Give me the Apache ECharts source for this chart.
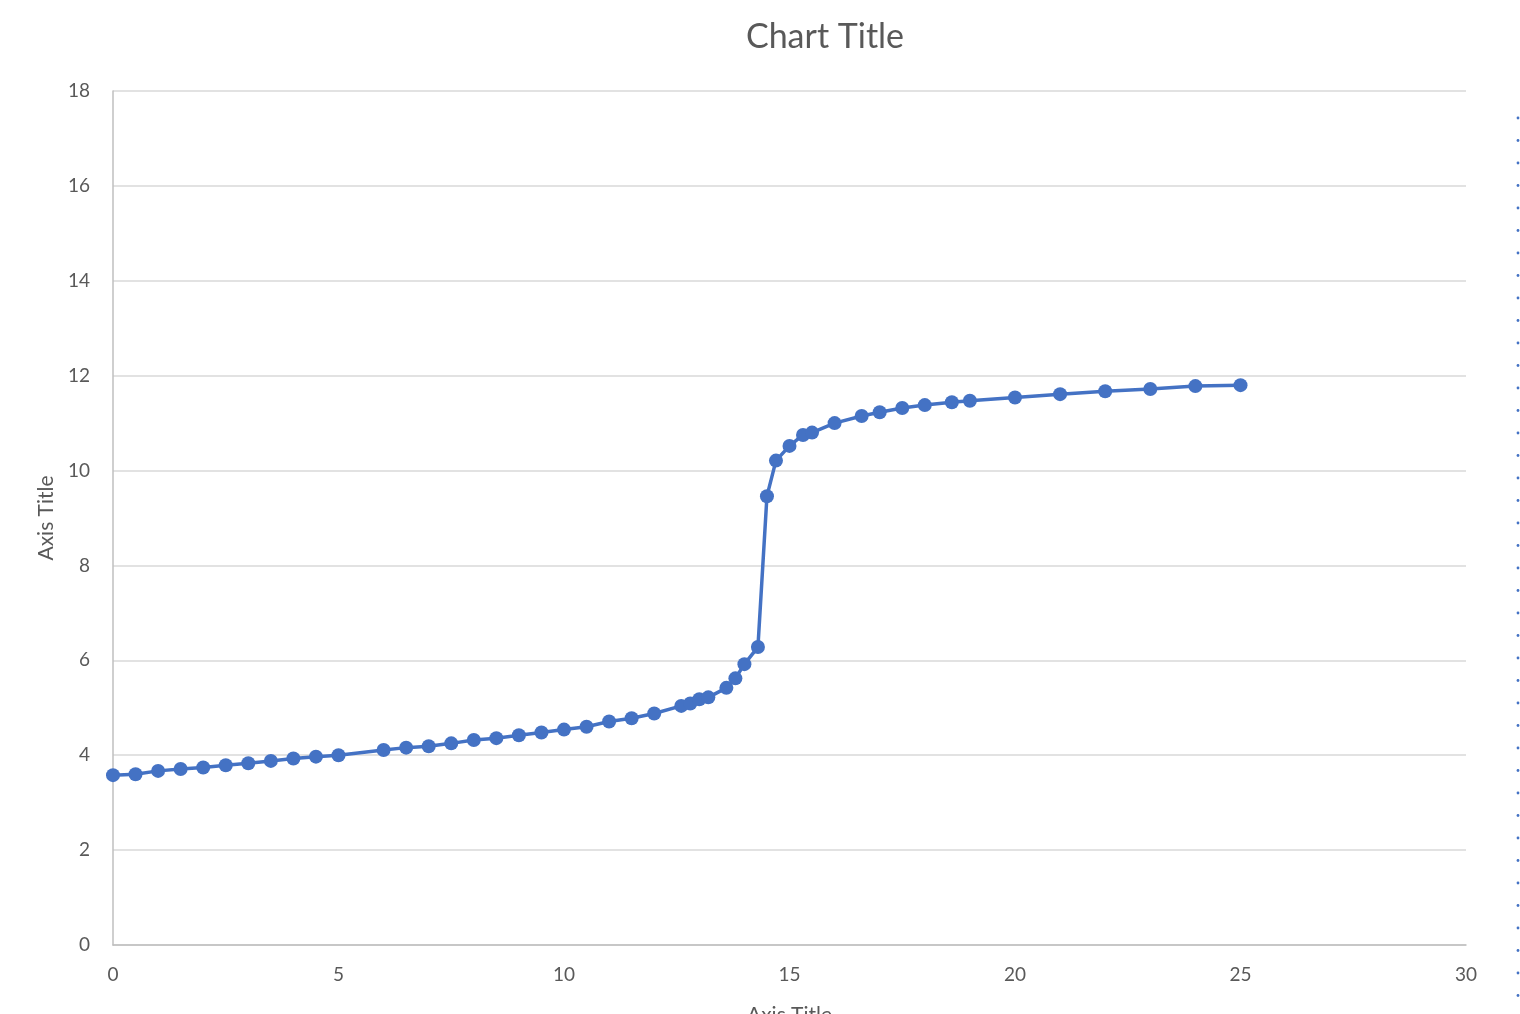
<!DOCTYPE html>
<html style="height: 100%">
<head>
<meta charset="utf-8">
<title>Chart Title</title>
<script src="https://cdn.jsdelivr.net/npm/echarts@6/dist/echarts.min.js"></script>
</head>
<body style="height: 100%; margin: 0; background: #fff">
<div id="container" style="width: 1520px; height: 1014px"></div>
<script type="text/javascript">
// values
var xValues = [0, 0.5, 1, 1.5, 2, 2.5, 3, 3.5, 4, 4.5, 5,
  6, 6.5, 7, 7.5, 8, 8.5, 9, 9.5, 10, 10.5, 11, 11.5, 12,
  12.6, 12.8, 13, 13.2, 13.6, 13.8, 14, 14.3,
  14.5, 14.7, 15, 15.3, 15.5, 16, 16.6, 17, 17.5, 18, 18.6, 19, 20, 21, 22, 23, 24, 25];
var yValues = [3.58, 3.60, 3.67, 3.71, 3.74, 3.79, 3.83, 3.88, 3.93, 3.97, 4.00,
  4.11, 4.16, 4.19, 4.25, 4.32, 4.36, 4.42, 4.48, 4.54, 4.60, 4.71, 4.78, 4.88,
  5.04, 5.09, 5.18, 5.22, 5.42, 5.62, 5.92, 6.28,
  9.46, 10.21, 10.52, 10.75, 10.80, 11.00, 11.15, 11.23, 11.32, 11.38, 11.44, 11.47, 11.54, 11.61, 11.67, 11.72, 11.78, 11.80];

var font = 'Lato, "Open Sans", sans-serif';
var grey = '#595959';

var points = [];
for (var i = 0; i < xValues.length; i++) {
  points.push([xValues[i], yValues[i]]);
}

// the clipped legend at the right edge: only tiny marker tips show
var legendDots = [];
for (var k = 0; k < 40; k++) {
  legendDots.push({
    type: 'circle',
    shape: { cx: 1518, cy: 118 + k * 22.5, r: 1.4 },
    style: { fill: '#4472C4' },
    silent: true
  });
}

var myChart = echarts.init(document.getElementById('container'));
var option = {
  animation: false,
  backgroundColor: '#fff',
  title: {
    text: 'Chart Title',
    left: 820,
    top: 15,
    textAlign: 'center',
    textStyle: { fontFamily: font, fontSize: 34, fontWeight: 'normal', color: grey }
  },
  grid: { left: 113, right: 54, top: 91, bottom: 69, outerBoundsMode: 'none', containLabel: false },
  xAxis: {
    type: 'value',
    min: 0,
    max: 30,
    interval: 5,
    name: 'Axis Title',
    nameLocation: 'middle',
    nameGap: 60,
    nameTextStyle: { fontFamily: font, fontSize: 21, color: grey },
    axisLine: { lineStyle: { color: '#bfbfbf', width: 1.5 } },
    axisTick: { show: false },
    axisLabel: { fontFamily: font, fontSize: 19, color: grey, margin: 20 },
    splitLine: { show: false }
  },
  yAxis: {
    type: 'value',
    min: 0,
    max: 18,
    interval: 2,
    name: 'Axis Title',
    nameLocation: 'middle',
    nameGap: 56,
    nameTextStyle: { fontFamily: font, fontSize: 21, color: grey },
    axisLine: { show: true, lineStyle: { color: '#bfbfbf', width: 1.5 } },
    axisTick: { show: false },
    axisLabel: { fontFamily: font, fontSize: 19, color: grey, margin: 23 },
    splitLine: { lineStyle: { color: '#d9d9d9', width: 1.5 } }
  },
  graphic: legendDots,
  series: [
    {
      name: 'Series1',
      type: 'line',
      data: points,
      symbol: 'circle',
      symbolSize: 14,
      lineStyle: { color: '#4472C4', width: 3.5 },
      itemStyle: { color: '#4472C4' }
    }
  ]
};

myChart.setOption(option);
</script>
</body>
</html>
